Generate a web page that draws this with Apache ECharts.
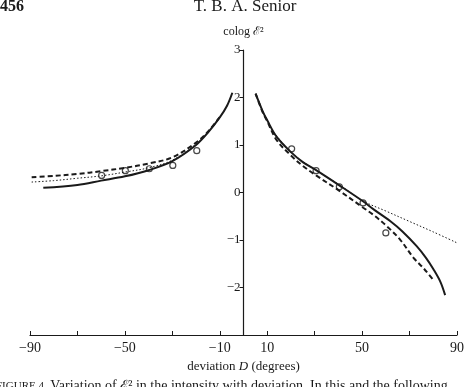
<!DOCTYPE html>
<html><head><meta charset="utf-8">
<script src="https://cdn.jsdelivr.net/npm/echarts@6/dist/echarts.min.js"></script>
<style>html,body{margin:0;padding:0;background:#fff}#c{width:474px;height:387px}</style>
</head><body><div id="c"></div>
<script>
// Data: [deviation D (deg), colog E^2]
const leftSolid = [[-84.4,0.10],[-70,0.16],[-60,0.25],[-50,0.34],[-40,0.47],[-30,0.66],[-20,1.0],[-15,1.26],[-10,1.58],[-7,1.82],[-4.7,2.1]];
const leftDashed = [[-89.3,0.32],[-80,0.35],[-70,0.39],[-60,0.45],[-50,0.52],[-40,0.61],[-30,0.74],[-20,1.05],[-15,1.28],[-10,1.59]];
const leftDotted = [[-89.3,0.22],[-80,0.25],[-70,0.30],[-60,0.35],[-50,0.43],[-40,0.52],[-30,0.68],[-20,1.02],[-15,1.27]];
const rightSolid = [[5.1,2.08],[8,1.72],[10,1.52],[14,1.17],[20,0.85],[25,0.64],[30.6,0.47],[40.7,0.14],[50.5,-0.19],[55,-0.36],[61.8,-0.60],[67,-0.82],[73,-1.13],[77,-1.38],[80,-1.61],[83,-1.88],[85,-2.16]];
const rightDashed = [[5.1,2.08],[8,1.70],[10,1.50],[14,1.10],[20,0.78],[25,0.56],[30.6,0.36],[40,0.05],[50.5,-0.32],[55,-0.48],[60.4,-0.71],[66,-0.99],[71.6,-1.37],[76,-1.60],[80.3,-1.86]];
const rightDotted = [[12,1.32],[20,0.85],[30.6,0.47],[40.7,0.15],[50.5,-0.18],[60,-0.39],[70,-0.61],[80,-0.83],[90,-1.06]];
const observedLeft = [[-59.8,0.36],[-49.8,0.46],[-39.7,0.50],[-29.8,0.57],[-19.7,0.88]];
const observedRight = [[20.3,0.92],[30.6,0.46],[40.4,0.12],[50.4,-0.22],[60,-0.85]];
const xLabels = [-90,-50,-10,10,50,90];
const yLabels = [3,2,1,0,-1,-2];

const ink = '#1a1a1a';
const serif = 'Liberation Serif';
const fmt = v => (v < 0 ? '\u2212' + Math.abs(v) : String(v));

function line(data, type, width) {
  return { type:'line', data, smooth:0.35, symbol:'none', silent:true,
    lineStyle:{ color:ink, width, type } };
}
const chart = echarts.init(document.getElementById('c'), null, {renderer:'canvas'});
chart.setOption({
  animation:false,
  backgroundColor:'#fff',
  grid:{ left:30, right:17, top:50, bottom:52 },
  xAxis:{ type:'value', min:-90, max:90, interval:20,
    axisLine:{ onZero:false, lineStyle:{ color:ink, width:1.2 } },
    axisTick:{ inside:true, length:4, lineStyle:{ color:ink } },
    splitLine:{ show:false },
    axisLabel:{ color:ink, fontFamily:serif, fontSize:14, margin:6,
      formatter: v => xLabels.includes(v) ? fmt(v) : '' },
    name:'{a|deviation }{i|D}{a| (degrees)}', nameLocation:'middle', nameGap:23,
    nameTextStyle:{ rich:{ a:{ fontFamily:serif, fontSize:13, color:ink }, i:{ fontFamily:serif, fontStyle:'italic', fontSize:13, color:ink } } }
  },
  yAxis:{ type:'value', min:-3, max:3, interval:1, position:'left', offset:-213.5,
    axisLine:{ onZero:false, lineStyle:{ color:ink, width:1.2 } },
    axisTick:{ length:4, lineStyle:{ color:ink } },
    splitLine:{ show:false },
    axisLabel:{ color:ink, fontFamily:serif, fontSize:13, margin:3,
      formatter: v => yLabels.includes(v) ? fmt(v) : '' },
    name:'colog \u2130\u00b2', nameLocation:'end', nameGap:12,
    nameTextStyle:{ fontFamily:serif, fontSize:12, color:ink, align:'center' }
  },
  graphic:[
    { type:'text', left:0, top:-1, style:{ text:'456', font:'bold 16px "Liberation Serif"', fill:ink } },
    { type:'text', x:245, y:-2, style:{ text:'T. B. A. Senior', font:'17px "Liberation Serif"', fill:ink, textAlign:'center' } },
    { type:'text', x:-4, y:379, style:{ text:'{s|FIGURE 4.} Variation of \u2130\u00b2 in the intensity with deviation. In this and the following',
        font:'14px "Liberation Serif"', fill:ink, rich:{ s:{ fontSize:11, fontFamily:serif, fill:ink } } } }
  ],
  series:[
    line(leftSolid,'solid',2), line(rightSolid,'solid',2),
    line(leftDashed,[5,3],2), line(rightDashed,[5,3],2),
    line(leftDotted,[1.5,2],1), line(rightDotted,[1.5,2],1),
    { type:'scatter', data:observedLeft.concat(observedRight), symbol:'circle', symbolSize:6, silent:true,
      itemStyle:{ color:'#fff', borderColor:ink, borderWidth:1.2 } }
  ]
});
</script></body></html>
